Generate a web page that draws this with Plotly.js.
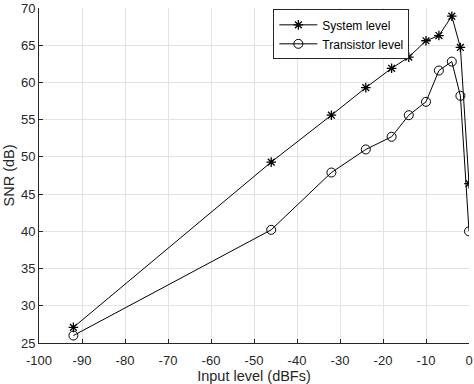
<!DOCTYPE html>
<html>
<head>
<meta charset="utf-8">
<script src="https://cdn.plot.ly/plotly-3.0.1.min.js"></script>
<style>html,body{margin:0;padding:0;background:#fff;}#chart{width:474px;height:384px;}</style>
</head>
<body>
<div id="chart"></div>
<script>
const inputLevel = [-92, -46, -32, -24, -18, -14, -10, -7, -4, -2, 0];
const systemSNR = [27.1, 49.3, 55.6, 59.3, 61.9, 63.4, 65.6, 66.3, 68.9, 64.7, 46.4];
const transistorSNR = [26.0, 40.2, 47.9, 51.0, 52.7, 55.6, 57.4, 61.6, 62.8, 58.2, 40.0];
const xTicks = [-100, -90, -80, -70, -60, -50, -40, -30, -20, -10, 0];
const yTicks = [25, 30, 35, 40, 45, 50, 55, 60, 65, 70];

const font = {family: 'Liberation Sans, Arial, sans-serif', size: 13, color: '#262626'};
const traces = [
  {x: inputLevel, y: systemSNR, name: 'System level', mode: 'lines+markers',
   line: {color: '#000', width: 1},
   marker: {symbol: 'asterisk-open', size: 8, color: '#000', line: {color: '#000', width: 1.3}}},
  {x: inputLevel, y: transistorSNR, name: 'Transistor level', mode: 'lines+markers',
   line: {color: '#000', width: 1},
   marker: {symbol: 'circle-open', size: 9, color: '#000', line: {color: '#000', width: 1}}}
];
const layout = {
  width: 474, height: 384,
  margin: {l: 39, r: 5, t: 8, b: 41},
  paper_bgcolor: '#fff', plot_bgcolor: '#fff',
  font: font,
  showlegend: true,
  legend: {x: 0.545, y: 0.996, xanchor: 'left', yanchor: 'top',
           bgcolor: '#fff', bordercolor: '#262626', borderwidth: 1,
           font: {family: 'Liberation Sans, Arial, sans-serif', size: 12, color: '#000'},
           tracegroupgap: 0, itemwidth: 38},
  xaxis: {range: [-100, 0], tickvals: xTicks, ticktext: xTicks.map(String),
          showgrid: true, gridcolor: '#e3e3e3', gridwidth: 1,
          zeroline: false, showline: true, linecolor: '#262626', linewidth: 1,
          ticks: 'inside', ticklen: 4, tickcolor: '#262626',
          ticklabeloverflow: 'allow', ticklabelstandoff: 5,
          title: {text: 'Input level (dBFs)', standoff: 4, font: {size: 14.5, color: '#262626'}},
          tickfont: {size: 13, color: '#262626'}},
  yaxis: {range: [25, 70], tickvals: yTicks, ticktext: yTicks.map(String),
          showgrid: true, gridcolor: '#e3e3e3', gridwidth: 1,
          zeroline: false, showline: true, linecolor: '#262626', linewidth: 1,
          ticks: 'inside', ticklen: 4, tickcolor: '#262626',
          ticklabeloverflow: 'allow',
          title: {text: 'SNR (dB)', standoff: 2, font: {size: 14.5, color: '#262626'}},
          tickfont: {size: 13, color: '#262626'}}
};
Plotly.newPlot('chart', traces, layout, {displayModeBar: false, staticPlot: true});
</script>
</body>
</html>
